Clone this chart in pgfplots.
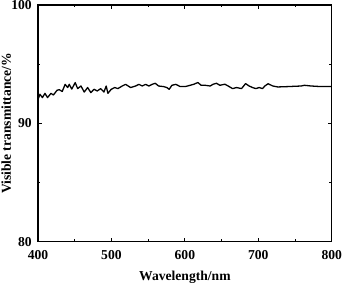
\documentclass[border=0pt]{standalone}
\usepackage{fontspec}
\setmainfont{Liberation Serif}
\usepackage{pgfplots}
\pgfplotsset{compat=1.18}
\begin{document}
\begin{tikzpicture}
\begin{axis}[
  name=ax,
  scale only axis,
  width=294bp, height=237bp,
  xmin=400, xmax=800, ymin=80, ymax=100,
  xtick={400,500,600,700,800},
  ytick={80,90,100},
  minor xtick={450,550,650,750},
  minor ytick={85,95},
  tick align=inside,
  major tick length=4bp, minor tick length=2.5bp,
  tick style={black, line width=1pt},
  axis line style={line width=1.2pt},
  /pgf/number format/assume math mode=true,
  /pgf/number format/1000 sep={},
  ticklabel style={font=\fontsize{13.6bp}{15bp}\selectfont\bfseries, inner sep=0pt},
  xticklabel style={yshift=-8bp},
  yticklabel style={xshift=-6bp},
  label style={font=\fontsize{13.6bp}{15bp}\selectfont\bfseries, inner sep=0pt},
  xlabel={Wavelength/nm},
  ylabel={Visible transmittance/\%},
  xlabel style={at={(rel axis cs:0.5,0)}, anchor=base, yshift=-39bp},
  ylabel style={at={(rel axis cs:0,0.5)}, anchor=base, yshift=27bp},
  clip=true,
]
\addplot[black, line width=1.3pt, line join=round] coordinates {
(400,92.03) (402.7,92.46) (406,92.18) (409.5,92.54) (413,92.18) (417.7,92.54)
(421,92.4) (426,92.8) (429,92.85) (433,92.7) (437,93.3) (440.4,93.03) (442.6,93.3)
(446,92.9) (450.7,93.45) (454,92.94) (458.5,93.16) (463,92.65) (467.6,93.03)
(472,92.6) (476.2,92.88) (480.7,92.74) (485.3,92.94) (489.8,92.65) (492.9,93.16)
(495.2,92.54) (499.7,92.88) (504.4,93.03) (508.8,92.94) (514.7,93.16) (519.3,93.3)
(526.1,93.03) (532.9,93.16) (537.4,93.3) (541.9,93.16) (546.5,93.3) (551,93.16)
(555.5,93.3) (559.6,93.39) (564.2,93.16) (571,93.11) (575.5,93.03) (578.6,92.88)
(582.3,93.22) (587.7,93.3) (593.6,93.11) (600.4,93.11) (607.2,93.22) (611.8,93.3)
(617.7,93.45) (622.2,93.22) (627.6,93.22) (634.4,93.16) (638.5,93.31) (643.1,93.39)
(647.6,93.22) (654.4,93.31) (658.9,93.16) (664.9,92.94) (670.3,93.03) (677.1,92.94)
(682.6,93.36) (687.5,93.16) (692.1,93.03) (696.6,92.94) (701.1,93.03) (705.7,92.94)
(708.8,93.16) (713.3,93.35) (719.7,93.16) (726.5,93.08) (740.1,93.11) (758.2,93.16)
(762.8,93.22) (771.8,93.16) (785.4,93.11) (800,93.11)
};
\end{axis}
\path ([xshift=-38bp,yshift=-44bp]ax.south west) rectangle ([xshift=10bp,yshift=5bp]ax.north east);
\end{tikzpicture}
\end{document}
